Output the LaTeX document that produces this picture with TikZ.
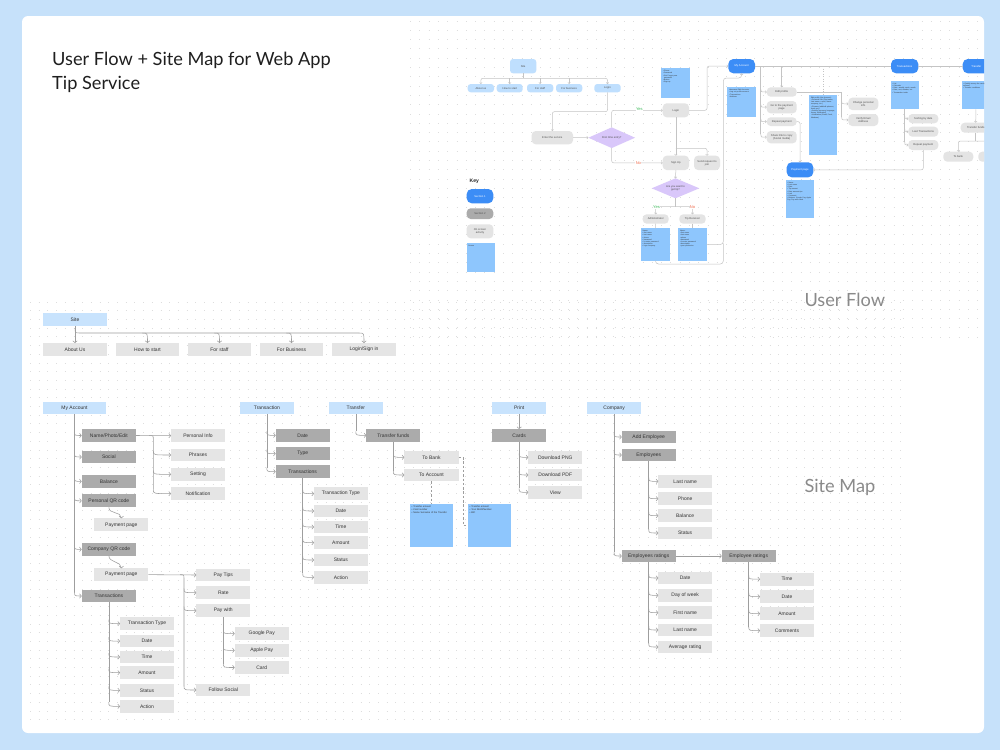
\documentclass[tikz,border=0pt]{standalone}
\usepackage{fontspec}
\setmainfont{Liberation Sans}
\newfontfamily\latof{Lato}
\usetikzlibrary{arrows.meta,shapes.geometric,calc}
\definecolor{bgblue}{HTML}{C6E1FA}
\definecolor{hdrblue}{HTML}{C8E3FD}
\definecolor{dkg}{HTML}{ABABAB}
\definecolor{ltg}{HTML}{E5E5E5}
\definecolor{txt}{HTML}{333333}
\definecolor{utxt}{HTML}{505050}
\definecolor{lnc}{HTML}{9E9E9E}
\definecolor{ulnc}{HTML}{C4C4C4}
\definecolor{ufblue}{HTML}{BFDFFE}
\definecolor{bpl}{HTML}{3C8DF6}
\definecolor{pgc}{HTML}{E4E4E4}
\definecolor{stkc}{HTML}{8EC6FD}
\definecolor{diac}{HTML}{D9C7FA}
\definecolor{dotc}{HTML}{DDDDDD}
\definecolor{lblc}{HTML}{8A8A8A}
\definecolor{yesc}{HTML}{3DBA5A}
\definecolor{noc}{HTML}{F06A4A}
\newcommand\smf{\fontsize{5}{5.8}\selectfont}
\newcommand\uff{\fontsize{2.7}{3.1}\selectfont}
\newcommand\stf{\fontsize{1.8}{2.2}\selectfont}
\newcommand\stfb{\fontsize{2.4}{2.9}\selectfont}
\tikzset{
 base/.style={inner sep=0pt, outer sep=0pt, text=txt, align=center},
 hdr/.style={base, fill=hdrblue, font=\smf},
 dk/.style={base, fill=dkg, font=\smf},
 lt/.style={base, fill=ltg, font=\smf},
 ln/.style={draw=lnc, line width=0.55pt},
 conn/.style={ln, -{Straight Barb[length=1.8pt,width=4.4pt]}},
 dsh/.style={draw=lnc, line width=0.5pt, dash pattern=on 2.5pt off 1.8pt},
 uln/.style={draw=ulnc, line width=0.5pt},
 uconn/.style={uln, -{Straight Barb[length=1.2pt,width=2.6pt]}},
 upill/.style={base, fill=ufblue, rounded corners=3pt, font=\uff, text=utxt},
 bpill/.style={base, fill=bpl, rounded corners=5pt, font=\uff, text=white},
 gpill/.style={base, fill=pgc, rounded corners=4pt, font=\uff, text=utxt},
 dpill/.style={base, fill=dkg, rounded corners=4pt, font=\uff, text=utxt},
 stky/.style={base, fill=stkc},
 dmd/.style={base, shape=diamond, fill=diac, font=\uff, text=utxt, aspect=2.3},
 ylbl/.style={inner sep=0.4pt, fill=white, font=\fontsize{4}{4}\selectfont, text=yesc},
 nlbl/.style={inner sep=0.4pt, fill=white, font=\fontsize{4}{4}\selectfont, text=noc},
 sect/.style={font=\latof\fontsize{18.2}{22}\selectfont, text=lblc, anchor=base west, inner sep=0pt},
 ttl/.style={anchor=base west, inner sep=0pt, font=\latof\fontsize{18.2}{22}\selectfont, text=black!88},
}
\newcommand{\bx}[7]{\node[#2,minimum width={(#5)-(#3)},minimum height={(#6)-(#4)}] (#1) at ({((#3)+(#5))/2},{((#4)+(#6))/2}) {#7};}
\newcommand{\stk}[7][\stf]{\bx{#2}{stky}{#3}{#4}{#5}{#6}{}\node[anchor=north west, inner sep=0pt, font=#1, text=txt, text width={(#5)-(#3)-3}, align=left] at ($(#2.north west)+(1.5,1.8)$) {#7};}
\newcommand{\brn}[2]{\draw[conn] ($(#2.west -| #1)+(0,-4)$) .. controls (#2.west -| #1) .. (#2.west);}
\newcommand{\ubrn}[2]{\draw[uconn] ($(#2.west -| #1)+(0,-3)$) .. controls (#2.west -| #1) .. (#2.west);}
\begin{document}
\begin{tikzpicture}[x=1pt,y=-1pt]
\useasboundingbox (0,0) rectangle (1000,750);
\fill[bgblue] (0,0) rectangle (1000,750);
\fill[white, rounded corners=6pt] (22,16) rectangle (984,733);
\begin{scope}
\clip[rounded corners=6pt] (22,16) rectangle (984,733);
% dot grids
\foreach \yy in {21,30.3,...,344} {\draw[dotc, line width=0.9pt, dash pattern=on 0.9pt off 8.4pt] (410,\yy) -- (984,\yy);}
\foreach \yy in {302,310.7,...,722} {\draw[dotc, line width=0.8pt, dash pattern=on 0.8pt off 7.9pt] (30,\yy) -- (907,\yy);}

% titles
\node[ttl] (ttl1) at (52,65) {User Flow + Site Map for Web App};
\node[ttl] (ttl2) at (52,89) {Tip Service};
\node[sect] (lufl) at (804.3,306) {User Flow};
\node[sect] (lsm) at (804.3,492.3) {Site Map};

% ================= SITE MAP =================
\bx{s}{hdr}{43}{313}{107}{326}{Site}
\bx{s1}{lt}{43}{343}{107}{356}{About Us}
\bx{s2}{lt}{116}{343}{179}{356}{How to start}
\bx{s3}{lt}{188}{343}{251}{356}{For staff}
\bx{s4}{lt}{260}{343}{323}{356}{For Business}
\bx{s5}{lt}{332}{343}{396}{356}{Login/Sign in}
\coordinate (hs) at (0,333);
\draw[conn] (s.south) -- (s1.north);
\draw[ln] ($(s.south)+(0,2)$) .. controls (s.south |- hs) .. ($(s.south |- hs)+(5,0)$) -- ($(s5.north |- hs)+(-5,0)$);
\foreach \c in {s2,s3,s4,s5} {\draw[conn] ($(\c.north |- hs)+(-5,0)$) .. controls (\c.north |- hs) .. (\c.north);}

% My Account
\bx{ma}{hdr}{43}{401.5}{106}{414.3}{My Account}
\bx{npe}{dk}{81.7}{429.3}{136}{441.7}{Name/Photo/Edit}
\bx{soc}{dk}{81.7}{450.7}{136}{463.3}{Social}
\bx{bal}{dk}{81.7}{475}{136}{487.7}{Balance}
\bx{pqr}{dk}{81.7}{494.3}{136}{507.3}{Personal QR code}
\bx{cqr}{dk}{81.7}{543}{136}{555.7}{Company QR code}
\bx{mtr}{dk}{81.7}{589.7}{136}{602.3}{Transactions}
\bx{pp1}{lt}{94.3}{518.3}{148.3}{531.3}{Payment page}
\bx{pp2}{lt}{94.3}{568.3}{148.3}{581}{Payment page}
\bx{pin}{lt}{171}{429.3}{225}{442}{Personal Info}
\bx{phr}{lt}{171}{448.7}{225}{461.3}{Phrases}
\bx{stt}{lt}{171}{468}{225}{480.7}{Setting}
\bx{ntf}{lt}{171}{487.3}{225}{500}{Notification}
\bx{ptp}{lt}{196.3}{568.7}{250.3}{581.3}{Pay Tips}
\bx{rte}{lt}{196.3}{586.3}{250.3}{599}{Rate}
\bx{pwt}{lt}{196.3}{604.3}{250.3}{617}{Pay with}
\bx{fsc}{lt}{196.3}{683.7}{250.3}{696.3}{Follow Social}
\bx{gpy}{lt}{234.7}{627.3}{288.7}{640}{Google Pay}
\bx{apy}{lt}{234.7}{644}{288.7}{656.7}{Apple Pay}
\bx{crd}{lt}{234.7}{661.3}{288.7}{673.7}{Card}
\bx{mt1}{lt}{120}{617.3}{174}{630}{Transaction Type}
\bx{mt2}{lt}{120}{635}{174}{647.3}{Date}
\bx{mt3}{lt}{120}{650.7}{174}{663.3}{Time}
\bx{mt4}{lt}{120}{666.3}{174}{679}{Amount}
\bx{mt5}{lt}{120}{684}{174}{696.7}{Status}
\bx{mt6}{lt}{120}{700}{174}{712.7}{Action}

\draw[ln] (ma.south) -- ($(mtr.west -| ma.south)+(0,-4)$);
\foreach \c in {npe,soc,bal,pqr,cqr,mtr} {\brn{ma.south}{\c}}
\draw[conn] (npe.east) -- (pin.west);
\coordinate (npet) at (153.3,435.5);
\draw[ln] ($(npet)+(-4,0)$) .. controls (npet) .. ($(npet)+(0,4)$) -- ($(ntf.west -| npet)+(0,-4)$);
\foreach \c in {phr,stt,ntf} {\brn{npet}{\c}}
\draw[conn] (pqr.south) .. controls +(0,7) and +(0,-7) .. (pp1.north);
\draw[conn] (cqr.south) .. controls +(0,7) and +(0,-7) .. (pp2.north);
\draw[conn] (pp2.east) -- (ptp.west);
\coordinate (ppt) at (184,574.7);
\draw[ln] ($(ppt)+(-4,0)$) .. controls (ppt) .. ($(ppt)+(0,4)$) -- ($(fsc.west -| ppt)+(0,-4)$);
\foreach \c in {rte,pwt,fsc} {\brn{ppt}{\c}}
\draw[ln] (pwt.south) -- ($(crd.west -| pwt.south)+(0,-4)$);
\foreach \c in {gpy,apy,crd} {\brn{pwt.south}{\c}}
\draw[ln] (mtr.south) -- ($(mt6.west -| mtr.south)+(0,-4)$);
\foreach \c in {mt1,mt2,mt3,mt4,mt5,mt6} {\brn{mtr.south}{\c}}

% Transaction
\bx{tx}{hdr}{240}{401.7}{293.7}{414.3}{Transaction}
\bx{txd}{dk}{275.7}{429}{329.7}{441.7}{Date}
\bx{txt}{dk}{275.7}{447.3}{329.7}{460}{Type}
\bx{txr}{dk}{275.7}{465.3}{329.7}{478}{Transactions}
\bx{t1}{lt}{314}{487.3}{367.7}{500}{Transaction Type}
\bx{t2}{lt}{314}{504.7}{367.7}{517.3}{Date}
\bx{t3}{lt}{314}{520.7}{367.7}{533.3}{Time}
\bx{t4}{lt}{314}{536.3}{367.7}{549}{Amount}
\bx{t5}{lt}{314}{553.7}{367.7}{566.3}{Status}
\bx{t6}{lt}{314}{571}{367.7}{583.7}{Action}
\draw[ln] (tx.south) -- ($(txr.west -| tx.south)+(0,-4)$);
\foreach \c in {txd,txt,txr} {\brn{tx.south}{\c}}
\draw[ln] (txr.south) -- ($(t6.west -| txr.south)+(0,-4)$);
\foreach \c in {t1,t2,t3,t4,t5,t6} {\brn{txr.south}{\c}}

% Transfer
\bx{tf}{hdr}{329}{401.7}{382.7}{414.3}{Transfer}
\bx{tff}{dk}{366.3}{429}{420.3}{441.7}{Transfer funds}
\bx{tbn}{lt}{404.3}{451}{458.7}{463.7}{To Bank}
\bx{tan}{lt}{404.3}{468.7}{458.7}{481.3}{To Account}
\draw[ln] (tf.south) -- ($(tff.west -| tf.south)+(0,-4)$);
\brn{tf.south}{tff}
\draw[ln] (tff.south) -- ($(tan.west -| tff.south)+(0,-4)$);
\foreach \c in {tbn,tan} {\brn{tff.south}{\c}}
\stk[\stfb]{nt1}{410}{503.7}{453}{546.7}{• Transfer amount\\• Card number\\• Name Surname of the Transfer}
\stk[\stfb]{nt2}{468}{503.7}{511}{546.7}{• Transfer amount\\• Your IBAN/Number\\• BIC}
\draw[dsh] (tan.south) -- (nt1.north);
\draw[dsh] (tbn.east) -| ($(nt2.west)+(-4.7,0)$) -- (nt2.west);

% Print
\bx{pr}{hdr}{492.3}{401.7}{546}{414.3}{Print}
\bx{cds}{dk}{492.3}{429}{546}{441.7}{Cards}
\bx{dp1}{lt}{528.3}{451}{582.3}{463.7}{Download PNG}
\bx{dp2}{lt}{528.3}{468.7}{582.3}{481.3}{Download PDF}
\bx{vw}{lt}{528.3}{486}{582.3}{498.7}{View}
\draw[conn] (pr.south) -- (cds.north);
\draw[ln] (cds.south) -- ($(vw.west -| cds.south)+(0,-4)$);
\foreach \c in {dp1,dp2,vw} {\brn{cds.south}{\c}}

% Company
\bx{co}{hdr}{587}{401.7}{641.3}{414.3}{Company}
\bx{ae}{dk}{621.7}{430.7}{675.7}{443.3}{Add Employee}
\bx{em}{dk}{621.7}{448.7}{675.7}{461.3}{Employees}
\bx{er}{dk}{621.7}{549.7}{675.7}{562.3}{Employees ratings}
\bx{e1}{lt}{658.3}{475}{712}{487.7}{Last name}
\bx{e2}{lt}{658.3}{492.3}{712}{505}{Phone}
\bx{e3}{lt}{658.3}{509.3}{712}{522}{Balance}
\bx{e4}{lt}{658.3}{526.7}{712}{539.3}{Status}
\bx{r1}{lt}{658.3}{571.7}{712}{584.3}{Date}
\bx{r2}{lt}{658.3}{589}{712}{601.7}{Day of week}
\bx{r3}{lt}{658.3}{606.3}{712}{619}{First name}
\bx{r4}{lt}{658.3}{623.7}{712}{636.3}{Last name}
\bx{r5}{lt}{658.3}{640.7}{712}{653.3}{Average rating}
\bx{er2}{dk}{721.7}{549.7}{775.7}{562.3}{Employee ratings}
\bx{q1}{lt}{760}{572.7}{814}{585.7}{Time}
\bx{q2}{lt}{760}{590.3}{814}{603}{Date}
\bx{q3}{lt}{760}{607.3}{814}{620}{Amount}
\bx{q4}{lt}{760}{624.3}{814}{637}{Comments}
\draw[ln] (co.south) -- ($(er.west -| co.south)+(0,-4)$);
\foreach \c in {ae,em,er} {\brn{co.south}{\c}}
\draw[ln] (em.south) -- ($(e4.west -| em.south)+(0,-4)$);
\foreach \c in {e1,e2,e3,e4} {\brn{em.south}{\c}}
\draw[ln] (er.south) -- ($(r5.west -| er.south)+(0,-4)$);
\foreach \c in {r1,r2,r3,r4,r5} {\brn{er.south}{\c}}
\draw[conn] (er.east) -- (er2.west);
\draw[ln] (er2.south) -- ($(q4.west -| er2.south)+(0,-4)$);
\foreach \c in {q1,q2,q3,q4} {\brn{er2.south}{\c}}

% ================= USER FLOW =================
\bx{us}{upill}{510}{59}{536.3}{73.3}{Site}
\bx{u1}{upill}{467.7}{84}{494}{92.3}{About us}
\bx{u2}{upill}{496.7}{84}{522.7}{92.3}{How to start}
\bx{u3}{upill}{527}{84}{553.3}{92.3}{For staff}
\bx{u4}{upill}{556}{84}{582.3}{92.3}{For business}
\bx{u5}{upill}{594.3}{84}{620.7}{92.3}{Login}
\coordinate (hu) at (0,78.3);
\draw[uln] (us.south) -- (us.south |- hu);
\draw[uln, rounded corners=2pt, {Straight Barb[length=1.2pt,width=2.6pt]}-{Straight Barb[length=1.2pt,width=2.6pt]}] (u1.north) |- (u5.north |- hu) -- (u5.north);
\foreach \c in {u2,u3,u4} {\draw[uconn] (\c.north |- hu) -- (\c.north);}

\bx{ent}{gpill}{531.7}{131}{573}{144.3}{Enter the service}
\node[dmd, minimum width=46.7, minimum height=20.7] (d1) at (611.7,137.7) {First time entry?};
\bx{lg}{gpill}{662.7}{103.3}{689}{117.3}{Login}
\bx{sup}{gpill}{662.7}{155.7}{689}{170}{Sign Up}
\bx{srj}{gpill}{694}{155.7}{720}{170}{Send request to\\join}
\node[dmd, minimum width=47.6, minimum height=20] (d2) at (675.5,188.3) {Are you want to\\get tip?};
\bx{adm}{gpill}{642.7}{214.3}{668.7}{223.7}{Administrator}
\bx{trc}{gpill}{679.3}{214.3}{705.7}{223.7}{Tip Receiver}
\coordinate (hl2) at (0,111.7);
\coordinate (hj) at (0,148.3);
\coordinate (hd) at (0,206.7);
\draw[uconn, rounded corners=2pt] (u5.south) -- (u5.south |- hl2) -| (ent.north);
\draw[uconn] (ent.east) -- (d1.west);
\draw[uconn, rounded corners=2pt] (d1.north) |- (lg.west);
\draw[uconn, rounded corners=2pt] (d1.south) |- (sup.west);
\draw[uconn] (lg.south) -- (sup.north);
\draw[uconn, rounded corners=2pt] (lg.south |- hj) -| (srj.north);
\draw[uconn] (sup.south) -- (d2.north);
\draw[uln] (d2.south) -- (d2.south |- hd);
\draw[uconn, rounded corners=2pt] (d2.south |- hd) -| (adm.north);
\draw[uconn, rounded corners=2pt] (d2.south |- hd) -| (trc.north);
\node[ylbl] (yes1) at (639.3,109.3) {Yes};
\node[nlbl] (no1) at (638.3,162.7) {No};
\node[ylbl] (yes2) at (656.5,206.7) {Yes};
\node[nlbl] (no2) at (692.5,206.7) {No};

\stk{lgn}{661.3}{68.3}{690.3}{97.7}{• Phone\\• Password\\• Get Forgot pass\\\hphantom{• }password\\• Button\\• Sign up}
\stk{adn}{641}{228.3}{670}{260.7}{Name:\\• first name\\• last name\\• phone\\• password\\• re-enter password\\• description\\• logo company}
\stk{trn}{678.3}{228.3}{706.7}{260.7}{Name:\\• first name\\• last name\\• phone\\• password\\• re-enter password\\• description\\• your profession}
\draw[uln] (adm.south) -- (adn.north);
\draw[uln] (trc.south) -- (trn.north);

% Key
\node[anchor=west, inner sep=0pt, font=\bfseries\fontsize{5}{5}\selectfont, text=black!85] (key) at (469.5,181) {Key};
\bx{k1}{bpill}{466.7}{189}{493.3}{203.3}{Section 1}
\bx{k2}{dpill}{466.7}{208.3}{493.3}{219}{Section 2}
\bx{k3}{gpill}{466.7}{224.3}{493.3}{238.3}{On screen\\activity}
\stk{k4}{466.7}{243.3}{495.3}{271.7}{Screen}

% My Account branch
\bx{mya}{bpill}{728.3}{59}{755}{73.3}{My Account}
\bx{utr}{bpill}{891}{59}{918.3}{73.3}{Transactions}
\bx{utf}{bpill}{962.7}{59}{990}{73.3}{Transfer}
\draw[uln] (mya.east) -- (utr.west);
\draw[uln] (utr.east) -- (utf.west);
\draw[uconn, rounded corners=2pt] (lg.east) -- (707,110.3) |- (mya.west);
\draw[uconn, rounded corners=3pt] (trn.east) -| (723.3,78) -| (mya.south);
\draw[uln, rounded corners=3pt] (adn.south) -- ++(0,3.3) -| (723.3,243.3);
\stk{myn}{727.3}{87.3}{755.7}{116.7}{Username Edit Accounts\\• Log out profile account\\• Transactions\\• Address}

\bx{ep}{gpill}{766.7}{87.3}{796.7}{96.7}{Edit profile}
\bx{gtp}{gpill}{766.7}{101}{796.7}{113.3}{Go to the payment\\page}
\bx{rp}{gpill}{766.7}{117.3}{796.7}{126}{Repeat payment}
\bx{sl}{gpill}{766.7}{131}{796.7}{143.3}{Share link to copy\\(Social media)}
\coordinate (ut) at (760.7,66.2);
\draw[uln] (ut) -- ($(sl.west -| ut)+(0,-3)$);
\foreach \c in {ep,gtp,rp,sl} {\ubrn{ut}{\c}}
\draw[uconn] (ep.north |- mya.east) -- (ep.north);
\stk{epn}{809.3}{95}{837.3}{155}{Edit profile (the Account):\\• Personal info (First name, Last name, e-mail, Name company, etc.)\\• Phrases (add/edit phrases, thank you)\\• Setting (currency, language, theme, notification)\\• Notification (Email, Push, Windows)}
\draw[uln, dotted] (epn.north |- mya.east) -- (epn.north);
\bx{cpi}{gpill}{848.3}{97.7}{878.3}{110}{Change personal\\info}
\bx{vea}{gpill}{848.3}{114}{878.3}{126}{Verify Email\\Address}
\coordinate (ept) at (841.7,92);
\draw[uln] (ep.east) -- (ept) -- ($(vea.west -| ept)+(0,-3)$);
\foreach \c in {cpi,vea} {\ubrn{ept}{\c}}

\bx{ppg}{bpill}{786.7}{162.3}{813.3}{177.3}{Payment page}
\draw[uconn, rounded corners=2pt] (rp.east) -| (ppg.north);
\stk{ppn}{785.7}{180}{814.3}{218.3}{• Name\\• Last name\\• Date\\• Tip amount\\• Rate amount tips\\• Link\\• Comment\\• Buttons: Google Pay, Apple Pay, Pay with cards}

% Transactions branch
\stk{trn2}{890.7}{81}{918.7}{109.3}{• List\\• Calendar\\• Date: weekly, week, month\\• Date, sort, number, etc.\\• Transaction totals}
\bx{sdt}{gpill}{908.3}{114}{938.3}{123.3}{Sorting by date}
\bx{ltx}{gpill}{908.3}{126.7}{938.3}{136.7}{Last Transactions}
\bx{rp2}{gpill}{908.3}{140}{938.3}{150}{Repeat payment}
\draw[uln] (trn2.south) -- ($(rp2.west -| trn2.south)+(0,-3)$);
\foreach \c in {sdt,ltx,rp2} {\ubrn{trn2.south}{\c}}
\draw[uconn, rounded corners=2pt] (rp2.south) |- (ppg.east);

% Transfer branch
\stk{tfn}{961.7}{81}{990}{109.3}{• Quickly money the card, to account\\• Transfer conditions}
\bx{tfu}{gpill}{960.7}{122.7}{990.7}{132.7}{Transfer funds}
\bx{tbk}{gpill}{943.3}{151.7}{973.3}{161.7}{To bank}
\bx{tac}{gpill}{978.3}{151.7}{1008.3}{161.7}{To account}
\coordinate (hb) at (0,141);
\draw[uconn] (tfn.south) -- (tfu.north);
\draw[uln] (tfu.south) -- (tfu.south |- hb);
\draw[uconn, rounded corners=2pt] (tfu.south |- hb) -| (tbk.north);
\draw[uconn, rounded corners=2pt] (tfu.south |- hb) -| (tac.north);
\end{scope}
\end{tikzpicture}
\end{document}
